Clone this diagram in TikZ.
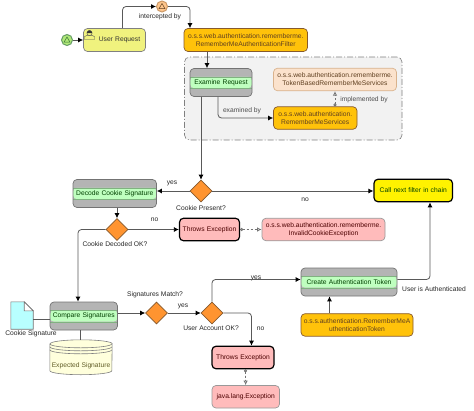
\documentclass[tikz,border=0pt]{standalone}
\usepackage{fontspec}
\setmainfont{Liberation Sans}
\usepackage{xcolor}
\usetikzlibrary{shapes.geometric, arrows.meta, positioning, calc}
\definecolor{goldfill}{HTML}{FFC20A}
\definecolor{pinkfill}{HTML}{FFBBBB}
\definecolor{peachfill}{HTML}{FBE2CC}
\definecolor{bandfill}{HTML}{BFFFBF}
\definecolor{taskgray}{HTML}{B4B4B4}
\definecolor{userfill}{HTML}{F0F27E}
\definecolor{diafill}{HTML}{FF9430}
\definecolor{startfill}{HTML}{B0E878}
\definecolor{docfill}{HTML}{B8FFFF}
\definecolor{storefill}{HTML}{FFFFDC}

\begin{document}
\begin{tikzpicture}[
        x=1pt, y=-1pt,
        every node/.style={font=\fontsize{6.7}{8.2}\selectfont, align=center, inner sep=0pt, text=black!80},
        box/.style={rectangle, rounded corners=4pt, draw=black!60, line width=0.7pt, text width=#1, minimum height=22.5pt},
        box/.default=60pt,
        gold/.style={box=#1, fill=goldfill, draw=brown!70!black, text=brown!50!black},
        peach/.style={box=#1, fill=peachfill, draw=brown!60, text=brown!50!black},
        pinkbox/.style={box=#1, fill=pinkfill, draw=black!40, text=red!30!black},
        throwbox/.style={box=60pt, fill=pinkfill, draw=black, line width=1.2pt, text=red!30!black},
        task/.style={rectangle, rounded corners=4pt, draw=black!55, line width=0.7pt, fill=taskgray, text width=#1, minimum height=28pt, text=green!25!black,
            path picture={\fill[bandfill] ([yshift=-5.7pt]path picture bounding box.west) rectangle ([yshift=5.7pt]path picture bounding box.east);
                \draw[green!40!black!50, line width=0.4pt] ([yshift=-5.7pt]path picture bounding box.west) -- ([yshift=-5.7pt]path picture bounding box.east) ([yshift=5.7pt]path picture bounding box.west) -- ([yshift=5.7pt]path picture bounding box.east);}},
        dia/.style={diamond, draw=brown!70!black, line width=0.6pt, fill=diafill, minimum size=22pt},
        event/.style={circle, minimum size=11pt, line width=1pt},
        flow/.style={-{Latex[black,length=5pt,width=5pt]}, line width=0.8pt, draw=black!65, rounded corners=3.5pt},
        link/.style={line width=0.8pt, draw=black!65},
        impl/.style={{Circle[open,fill=white,length=3pt,width=3pt]}-{Latex[open,fill=white,length=4.5pt,width=4.5pt]}, line width=0.8pt, draw=black!55, dash pattern=on 2pt off 2pt},
        lbl/.style={text=black!85},
        storeline/.style={draw=black!50, line width=0.6pt}
    ]
        \useasboundingbox (0,0) rectangle (474,410);

        % Grouping area
        \node[rectangle, rounded corners=5pt, draw=black!50, fill=black!5, line width=0.6pt, dash pattern=on 6pt off 2pt on 1pt off 2pt, minimum width=217.5pt, minimum height=83pt] (grp) at (293.25,98.5) {};

        % Top row
        \node[event, fill=startfill, draw=green!35!black!60] (start) at (67,40) {};
        \draw[green!30!black!80, line width=0.5pt] ($(start.center)+(0,-3)$) -- ($(start.center)+(3,2.2)$) -- ($(start.center)+(-3,2.2)$) -- cycle;
        \node[box=62pt, fill=userfill, draw=black!50, minimum height=23pt] (usr) at (114.5,40) {\hspace*{10pt}User Request};
        \node[event, fill=orange!45, draw=brown!80] (icpt) at (162,6.5) {};
        \draw[brown!50!black, line width=0.5pt] ($(icpt.center)+(0,-3)$) -- ($(icpt.center)+(3,2.2)$) -- ($(icpt.center)+(-3,2.2)$) -- cycle;
        \node[lbl] (icptlbl) at (160,16.5) {intercepted by};
        \node[gold=123.5pt, minimum height=23pt] (filter) at (245.75,40) {o.s.s.web.authentication.rememberme.\\RememberMeAuthenticationFilter};

        % User icon
        \draw[fill=userfill, draw=black!70, line width=0.4pt] (84.5,39.5) -- (84.5,36.5) .. controls (86,35) and (93,35) .. (94.5,36.5) -- (94.5,39.5) -- cycle;
        \draw[fill=userfill, draw=black!70, line width=0.4pt] (89.5,33) circle (2.6pt);
        \fill[black!80] (86.9,33) arc[start angle=180, end angle=0, radius=2.6pt] -- cycle;

        % Inside the group
        \node[task=62pt] (exam) at (221,82.5) {Examine Request};
        \node[peach=123pt] (tokensvc) at (335,79.5) {o.s.s.web.authentication.rememberme.\\TokenBasedRememberMeServices};
        \node[gold=83.5pt] (rmsvc) at (315.25,118) {o.s.s.web.authentication.\\RememberMeServices};
        \node[lbl, text=black!70] (impllbl) at (364,100) {implemented by};
        \node[lbl, text=black!70] (examlbl) at (242,111) {examined by};

        % Cookie present
        \node[dia] (cpres) at (201,191) {};
        \node[lbl, below=3pt of cpres] (cpreslbl) {Cookie Present?};
        \node[task=83.5pt] (decode) at (114.75,193.5) {Decode Cookie Signature};
        \node[throwbox, text width=78.5pt, fill=yellow, draw=black, text=green!25!black] (nextf) at (413.25,190.5) {Call next filter in chain};
        \node[lbl] (yes1) at (172,183.5) {yes};
        \node[lbl] (no1) at (305,200) {no};

        % Cookie decoded
        \node[dia] (cdec) at (117,229.5) {};
        \node[lbl] (cdeclbl) at (115,244.5) {Cookie Decoded OK?};
        \node[throwbox] (thr1) at (209.5,229.5) {Throws Exception};
        \node[lbl] (no2) at (154.5,219.5) {no};
        \node[pinkbox=123pt] (invalid) at (323.5,229.5) {o.s.s.web.authentication.rememberme.\\InvalidCookieException};

        % Compare row
        \node[task=67.5pt] (cmp) at (83.75,316) {Compare Signatures};
        \node[dia] (smatch) at (156.5,313) {};
        \node[lbl] (smatchlbl) at (155,294.5) {Signatures Match?};
        \node[lbl] (yes2) at (183,306) {yes};
        \node[dia] (uok) at (212,313) {};
        \node[lbl] (uoklbl) at (211,328) {User Account OK?};
        \node[lbl] (no3) at (260.5,328.5) {no};
        \node[lbl] (yes3) at (256,278) {yes};

        % Token creation
        \node[task=96pt] (create) at (349,282) {Create Authentication Token};
        \node[gold=112pt, below=17pt of create.south west, anchor=north west] (rmtoken) {o.s.s.authentication.RememberMeA\\uthenticationToken};
        \node[lbl] (authlbl) at (434,289) {User is Authenticated};

        % Second exception
        \node[throwbox, text width=62pt] (thr2) at (243,357.5) {Throws Exception};
        \node[pinkbox=67.5pt] (javaex) at (245.75,396.75) {java.lang.Exception};

        % Cookie signature document
        \node[minimum width=22pt, minimum height=27pt] (doc) at (22,315.5) {};
        \draw[black!55, fill=docfill, line width=0.6pt] (doc.north west) -- ($(doc.north east)+(-9,0)$) -- ($(doc.north east)+(0,9)$) -- (doc.south east) -- (doc.south west) -- cycle;
        \draw[black!55, fill=white, line width=0.6pt] ($(doc.north east)+(-9,0)$) -- ($(doc.north east)+(-9,9)$) -- ($(doc.north east)+(0,9)$) -- cycle;
        \node[lbl] (doclbl) at (31,334) {Cookie Signature};

        % Expected signature store
        \node[minimum width=62pt, minimum height=34.5pt] (store) at (81,357.25) {};
        \draw[storeline, fill=storefill] ($(store.north west)+(0,4)$) -- ($(store.south west)+(0,-4)$) arc[start angle=180, end angle=360, x radius=31pt, y radius=4pt] -- ($(store.north east)+(0,4)$) arc[start angle=0, end angle=180, x radius=31pt, y radius=4pt] -- cycle;
        \draw[storeline] ($(store.north west)+(0,4)$) arc[start angle=180, end angle=360, x radius=31pt, y radius=4pt];
        \draw[storeline] ($(store.north west)+(0,7)$) arc[start angle=180, end angle=360, x radius=31pt, y radius=4pt];
        \draw[storeline] ($(store.north west)+(0,10)$) arc[start angle=180, end angle=360, x radius=31pt, y radius=4pt];
        \node[text=olive!60!black] (storelbl) at (81,366) {Expected Signature};

        % Connectors
        \draw[flow] (start) -- (usr);
        \draw[flow] ([xshift=8pt]usr.north) |- (icpt);
        \draw[flow] (icpt) -| ([xshift=-55.75pt]filter.north);
        \draw[flow] ([xshift=-38.75pt]filter.south) -- ([xshift=-14pt]exam.north);
        \draw[impl] (rmsvc.north -| tokensvc) -- (tokensvc);
        \draw[flow] ([xshift=-3pt]exam.south) |- (rmsvc);
        \draw[flow] ([xshift=-20pt]exam.south) -- (cpres);
        \draw[flow] (cpres) -- (decode.east |- cpres);
        \draw[flow] (cpres) -- (nextf.west |- cpres);
        \draw[flow] (decode.south -| cdec) -- (cdec);
        \draw[flow] (cdec) -- (thr1);
        \draw[impl] (thr1) -- (invalid);
        \draw[flow] (cdec) -| ([xshift=-5.75pt]cmp.north);
        \draw[flow] (cmp.east |- smatch) -- (smatch);
        \draw[flow] (smatch) -- (uok);
        \draw[flow] (uok) |- ([yshift=2.5pt]create.west);
        \draw[flow] (uok) -| ([xshift=8.5pt]thr2.north);
        \draw[flow] ([yshift=2.5pt]create.east) -| ([xshift=16.75pt]nextf.south);
        \draw[flow] (rmtoken.north -| 329.5,0) -- (create.south -| 329.5,0);
        \draw[impl] ([xshift=2.5pt]thr2.south) -- (javaex);
        \draw[link] (doc.east |- 0,319.5) -- (cmp.west |- 0,319.5);
        \draw[link] ([xshift=-3.75pt]cmp.south) -- ([xshift=-1pt]store.north);
    \end{tikzpicture}
\end{document}
